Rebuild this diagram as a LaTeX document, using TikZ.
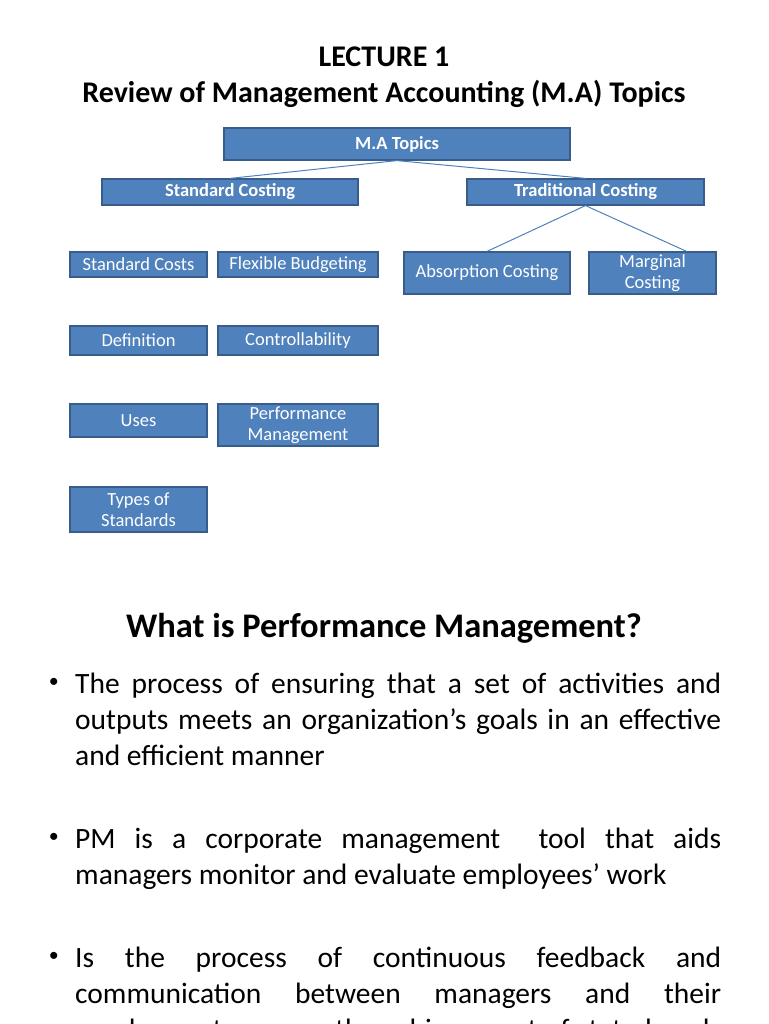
\documentclass[tikz,border=0pt]{standalone}
\usepackage{fontspec}
\setmainfont{Carlito}
\usetikzlibrary{positioning}
\definecolor{boxfill}{HTML}{4F81BD}
\definecolor{boxline}{HTML}{385D8A}
\tikzset{
    topic/.style={draw=boxline, fill=boxfill, line width=1.2pt, text=white,
        font=\fontsize{18.5}{21}\selectfont, align=center, inner sep=0pt},
    link/.style={draw=boxfill, line width=1pt},
    para/.style={anchor=north west, text width=646pt, align=justify, inner sep=0pt,
        font=\fontsize{29.5}{36}\selectfont},
}
\newcommand{\tbox}[6]{\node[topic, minimum width=#4pt-#2pt, minimum height=#5pt-#3pt]
    (#1) at ({(#2+#4)/2},{(#3+#5)/2}) {#6};}
\begin{document}
\begin{tikzpicture}[x=1pt, y=-1pt]
    \useasboundingbox (0,0) rectangle (768,1024);
    \clip (0,0) rectangle (768,1024);
    % titles
    \node[font=\bfseries\fontsize{30}{34}\selectfont] (lecture) at (384,57) {LECTURE 1};
    \node[font=\bfseries\fontsize{30}{34}\selectfont] (review) at (384,94)
        {Review of Management Accounting (M.A) Topics};
    % topic tree
    \tbox{ma}{224}{128}{570}{160}{\textbf{M.A Topics}}
    \tbox{std}{102}{179}{358}{205}{\textbf{Standard Costing}}
    \tbox{trad}{467}{179}{704}{205}{\textbf{Traditional Costing}}
    \tbox{stdcost}{70}{252}{207}{277}{Standard Costs}
    \tbox{flex}{218}{252}{378}{277}{Flexible Budgeting}
    \tbox{absorb}{404}{252}{570}{294}{Absorption Costing}
    \tbox{marginal}{589}{252}{716}{294}{Marginal\\Costing}
    \tbox{defn}{70}{326}{207}{355}{Definition}
    \tbox{control}{218}{326}{378}{355}{Controllability}
    \tbox{uses}{70}{404}{207}{437}{Uses}
    \tbox{perf}{218}{404}{378}{446}{Performance\\Management}
    \tbox{types}{70}{487}{207}{532}{Types of\\Standards}
    \draw[link] (ma.south) -- (std.north);
    \draw[link] (ma.south) -- (trad.north);
    \draw[link] (trad.south) -- (absorb.north);
    \draw[link] (trad.south) -- ([xshift=-30pt]marginal.north east);
    % lower text
    \node[font=\bfseries\fontsize{34.5}{38}\selectfont] (question) at (384,628)
        {What is Performance Management?};
    \node[para] (p1) at (75,673) {The process of ensuring that a set of activities and\linebreak
        outputs meets an organization\char"0027 s goals in an effective\linebreak and efficient manner};
    \node[para] (p2) at (75,828) {PM is a corporate management\ \ tool that aids\linebreak
        managers monitor and evaluate employees’ work};
    \node[para] (p3) at (75,947) {Is the process of continuous feedback and\linebreak
        communication between managers and their\linebreak
        employees to ensure the achievement of stated goals and};
    \foreach \p in {p1,p2,p3}
        \node[anchor=north east, inner sep=0pt, font=\fontsize{20}{24}\selectfont]
            at ([xshift=-16pt,yshift=-5pt]\p.north west) {•};
\end{tikzpicture}
\end{document}
